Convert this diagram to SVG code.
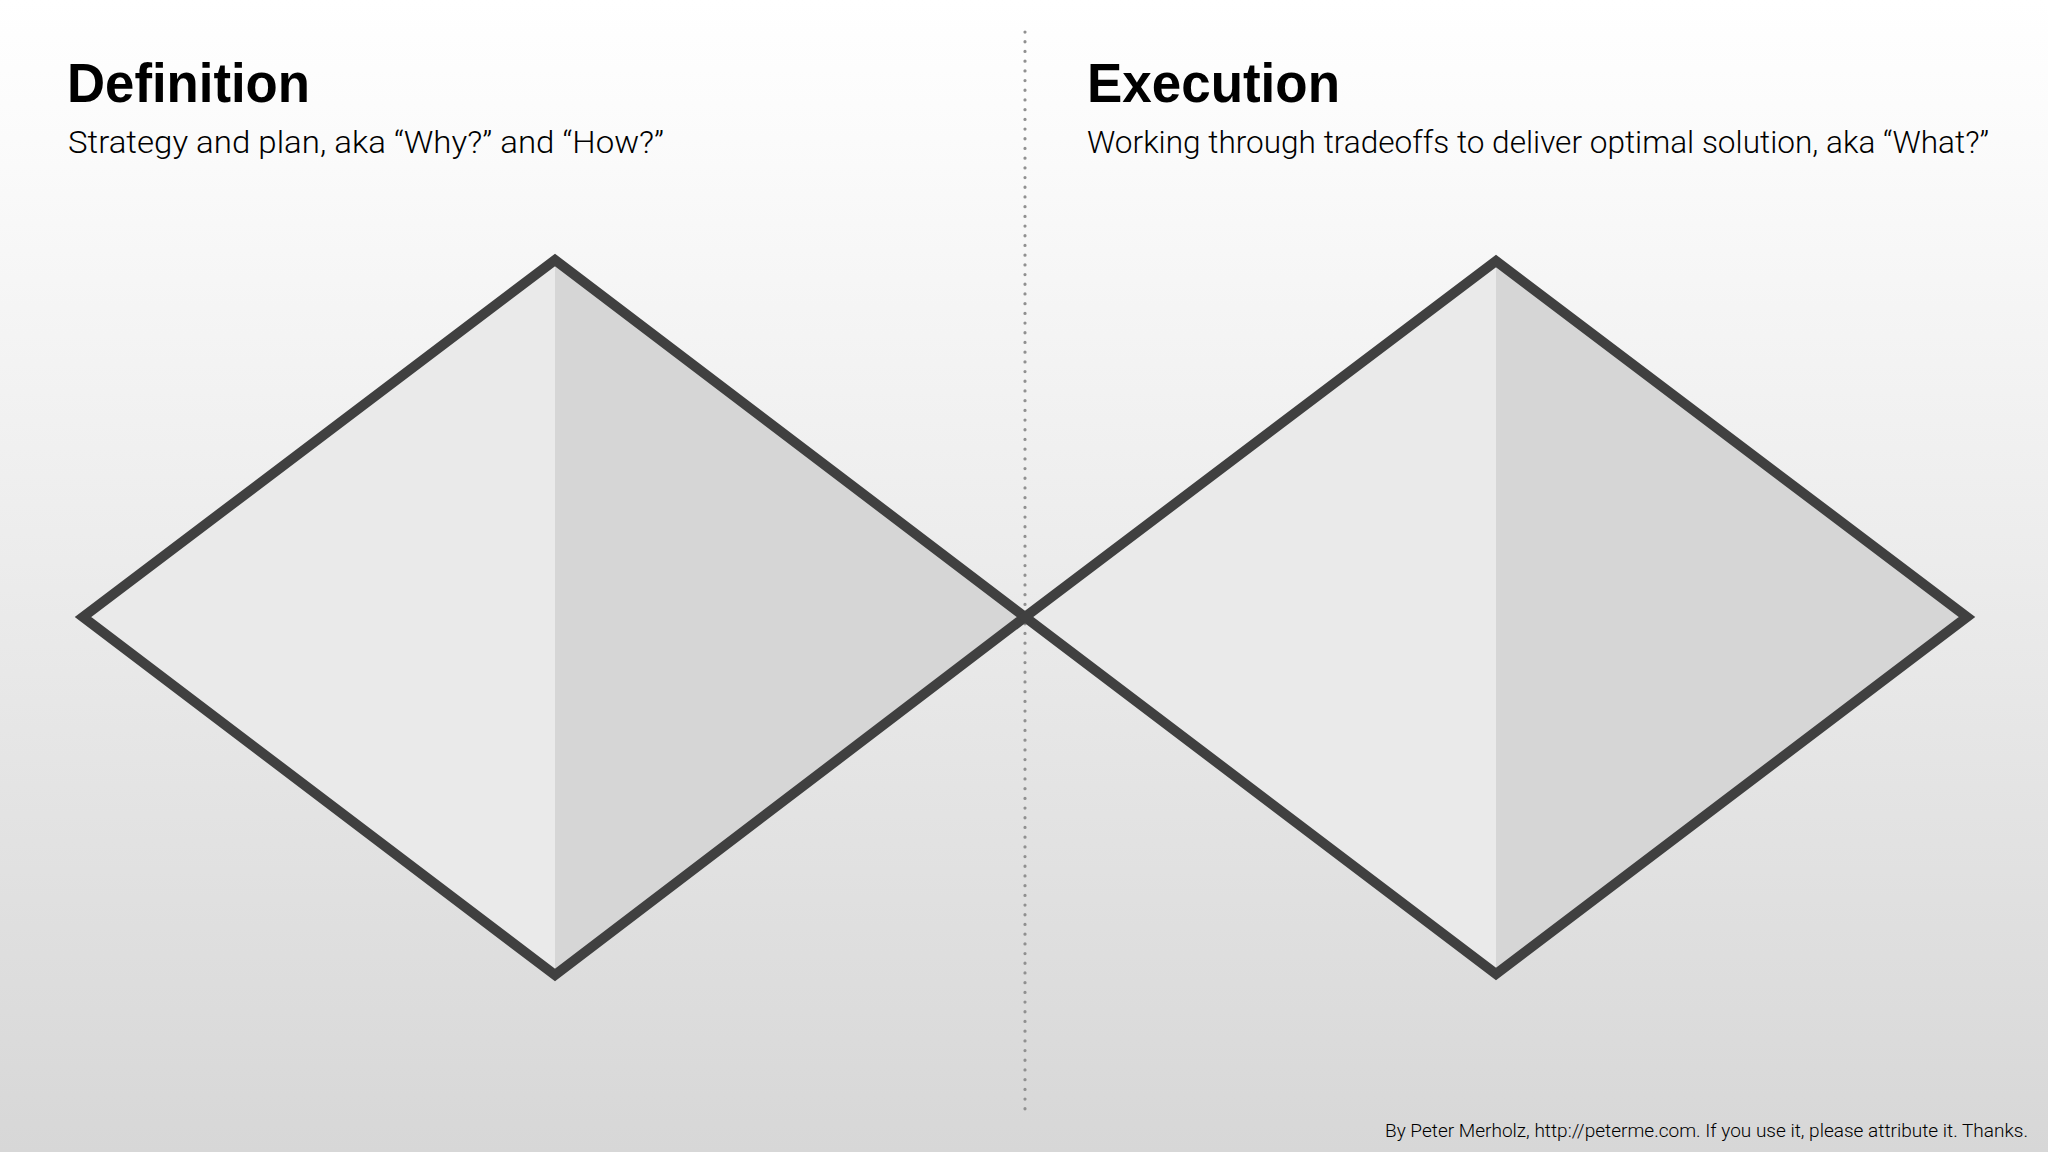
<svg xmlns="http://www.w3.org/2000/svg" width="2048" height="1152" viewBox="0 0 2048 1152">
  <defs>
    <linearGradient id="bg" x1="0" y1="0" x2="0" y2="1">
      <stop offset="0" stop-color="#ffffff"/>
      <stop offset="0.12" stop-color="#fbfbfb"/>
      <stop offset="1" stop-color="#d7d7d7"/>
    </linearGradient>
    <style>
      .title { font-family: "Liberation Sans", Arial, sans-serif; font-weight: bold; font-size: 56px; fill: #000; }
      .sub { font-family: Roboto, "Liberation Sans", Arial, sans-serif; font-weight: 300; font-size: 32px; fill: #000; }
      .foot { font-family: Roboto, "Liberation Sans", Arial, sans-serif; font-weight: 300; font-size: 19px; fill: #000; }
      .light { fill: #eaeaea; }
      .dark { fill: #d6d6d6; }
      .outline { fill: none; stroke: #404040; stroke-width: 10; stroke-linejoin: miter; stroke-miterlimit: 10; }
      .divider { stroke: #909090; stroke-width: 3.2; stroke-dasharray: 0.1 9.6; stroke-linecap: round; fill: none; }
    </style>
  </defs>
  <rect width="2048" height="1152" fill="url(#bg)"/>

  <g id="divider-line">
    <line class="divider" x1="1025" y1="32" x2="1025" y2="1118"/>
  </g>

  <g id="definition-diamond">
    <polygon class="light" points="555,260 83,617 555,975"/>
    <polygon class="dark" points="555,260 1025,617 555,975"/>
    <polygon class="outline" points="555,260 1025,617 555,975 83,617"/>
  </g>

  <g id="execution-diamond">
    <polygon class="light" points="1496,261 1025,617 1496,974"/>
    <polygon class="dark" points="1496,261 1967,617 1496,974"/>
    <polygon class="outline" points="1496,261 1967,617 1496,974 1025,617"/>
  </g>

  <g id="definition-label">
    <text class="title" x="67" y="102" textLength="243" lengthAdjust="spacingAndGlyphs">Definition</text>
    <text class="sub" x="68" y="153" textLength="596" lengthAdjust="spacingAndGlyphs">Strategy and plan, aka “Why?” and “How?”</text>
  </g>

  <g id="execution-label">
    <text class="title" x="1087" y="102" textLength="253" lengthAdjust="spacingAndGlyphs">Execution</text>
    <text class="sub" x="1087" y="153" textLength="902" lengthAdjust="spacingAndGlyphs">Working through tradeoffs to deliver optimal solution, aka “What?”</text>
  </g>

  <g id="credit">
    <text class="foot" x="1385" y="1137" textLength="643" lengthAdjust="spacingAndGlyphs">By Peter Merholz, http://peterme.com. If you use it, please attribute it. Thanks.</text>
  </g>
</svg>
